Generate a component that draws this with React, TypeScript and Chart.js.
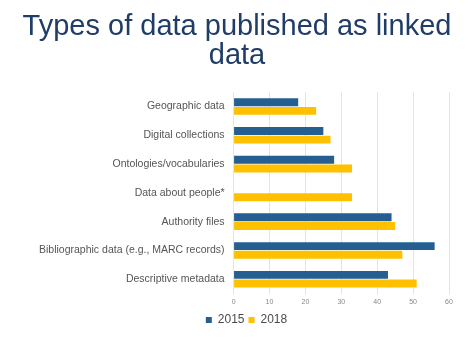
import React, { useEffect, useRef } from "react";
import { Chart, registerables } from "chart.js";

Chart.register(...registerables);

const categories = [
  "Geographic data",
  "Digital collections",
  "Ontologies/vocabularies",
  "Data about people*",
  "Authority files",
  "Bibliographic data (e.g., MARC records)",
  "Descriptive metadata",
];
const values2015 = [18, 25, 28, 0, 44, 56, 43];
const values2018 = [23, 27, 33, 33, 45, 47, 51];
const xTicks = [0, 10, 20, 30, 40, 50, 60];

const shiftBlocks = {
  id: "shiftBlocks",
  afterLayout(chart: any) {
    const l = chart.legend;
    if (l) {
      l.left += 7;
      l.right += 7;
    }
    const t = chart.titleBlock;
    if (t) {
      t.left = 0;
      t.right = chart.width;
    }
  },
};

export default function App() {
  const ref = useRef<HTMLCanvasElement>(null);
  useEffect(() => {
    const chart = new Chart(ref.current!, {
      type: "bar",
      data: {
        labels: categories,
        datasets: [
          { label: "2015", data: values2015, backgroundColor: "#255e91", categoryPercentage: 0.6, barPercentage: 0.92 },
          { label: "2018", data: values2018, backgroundColor: "#ffc000", categoryPercentage: 0.6, barPercentage: 0.92 },
        ],
      },
      plugins: [shiftBlocks],
      options: {
        indexAxis: "y",
        animation: false,
        responsive: false,
        layout: { padding: { left: 30, right: 25, top: 0, bottom: 19 } },
        plugins: {
          title: {
            display: true,
            text: ["Types of data published as linked", "data"],
            color: "#1f3d66",
            font: { family: "Liberation Sans", size: 29, weight: "normal", lineHeight: 1.02 },
            padding: { top: 12, bottom: 21 },
          },
          legend: {
            position: "bottom",
            labels: {
              boxWidth: 6,
              boxHeight: 6,
              color: "#4a4a4a",
              font: { family: "Liberation Sans", size: 12 },
              padding: 4,
            },
          },
          tooltip: { enabled: false },
        },
        scales: {
          x: {
            min: 0,
            max: 60,
            afterBuildTicks: (axis: any) => {
              axis.ticks = xTicks.map((v) => ({ value: v }));
            },
            ticks: { color: "#888", font: { family: "Liberation Sans", size: 7 }, padding: 4 },
            grid: { color: "#e4e4e4", drawTicks: false },
            border: { display: false },
          },
          y: {
            ticks: { color: "#555", font: { family: "Liberation Sans", size: 10.5 }, padding: 9 },
            grid: { display: false, drawTicks: false },
            border: { color: "#e4e4e4" },
          },
        },
      },
    });
    return () => chart.destroy();
  }, []);
  return (
    <div style={{ position: "fixed", left: 0, top: 0, width: 474, height: 355, background: "#fff" }}>
      <canvas ref={ref} width={474} height={355} />
    </div>
  );
}
